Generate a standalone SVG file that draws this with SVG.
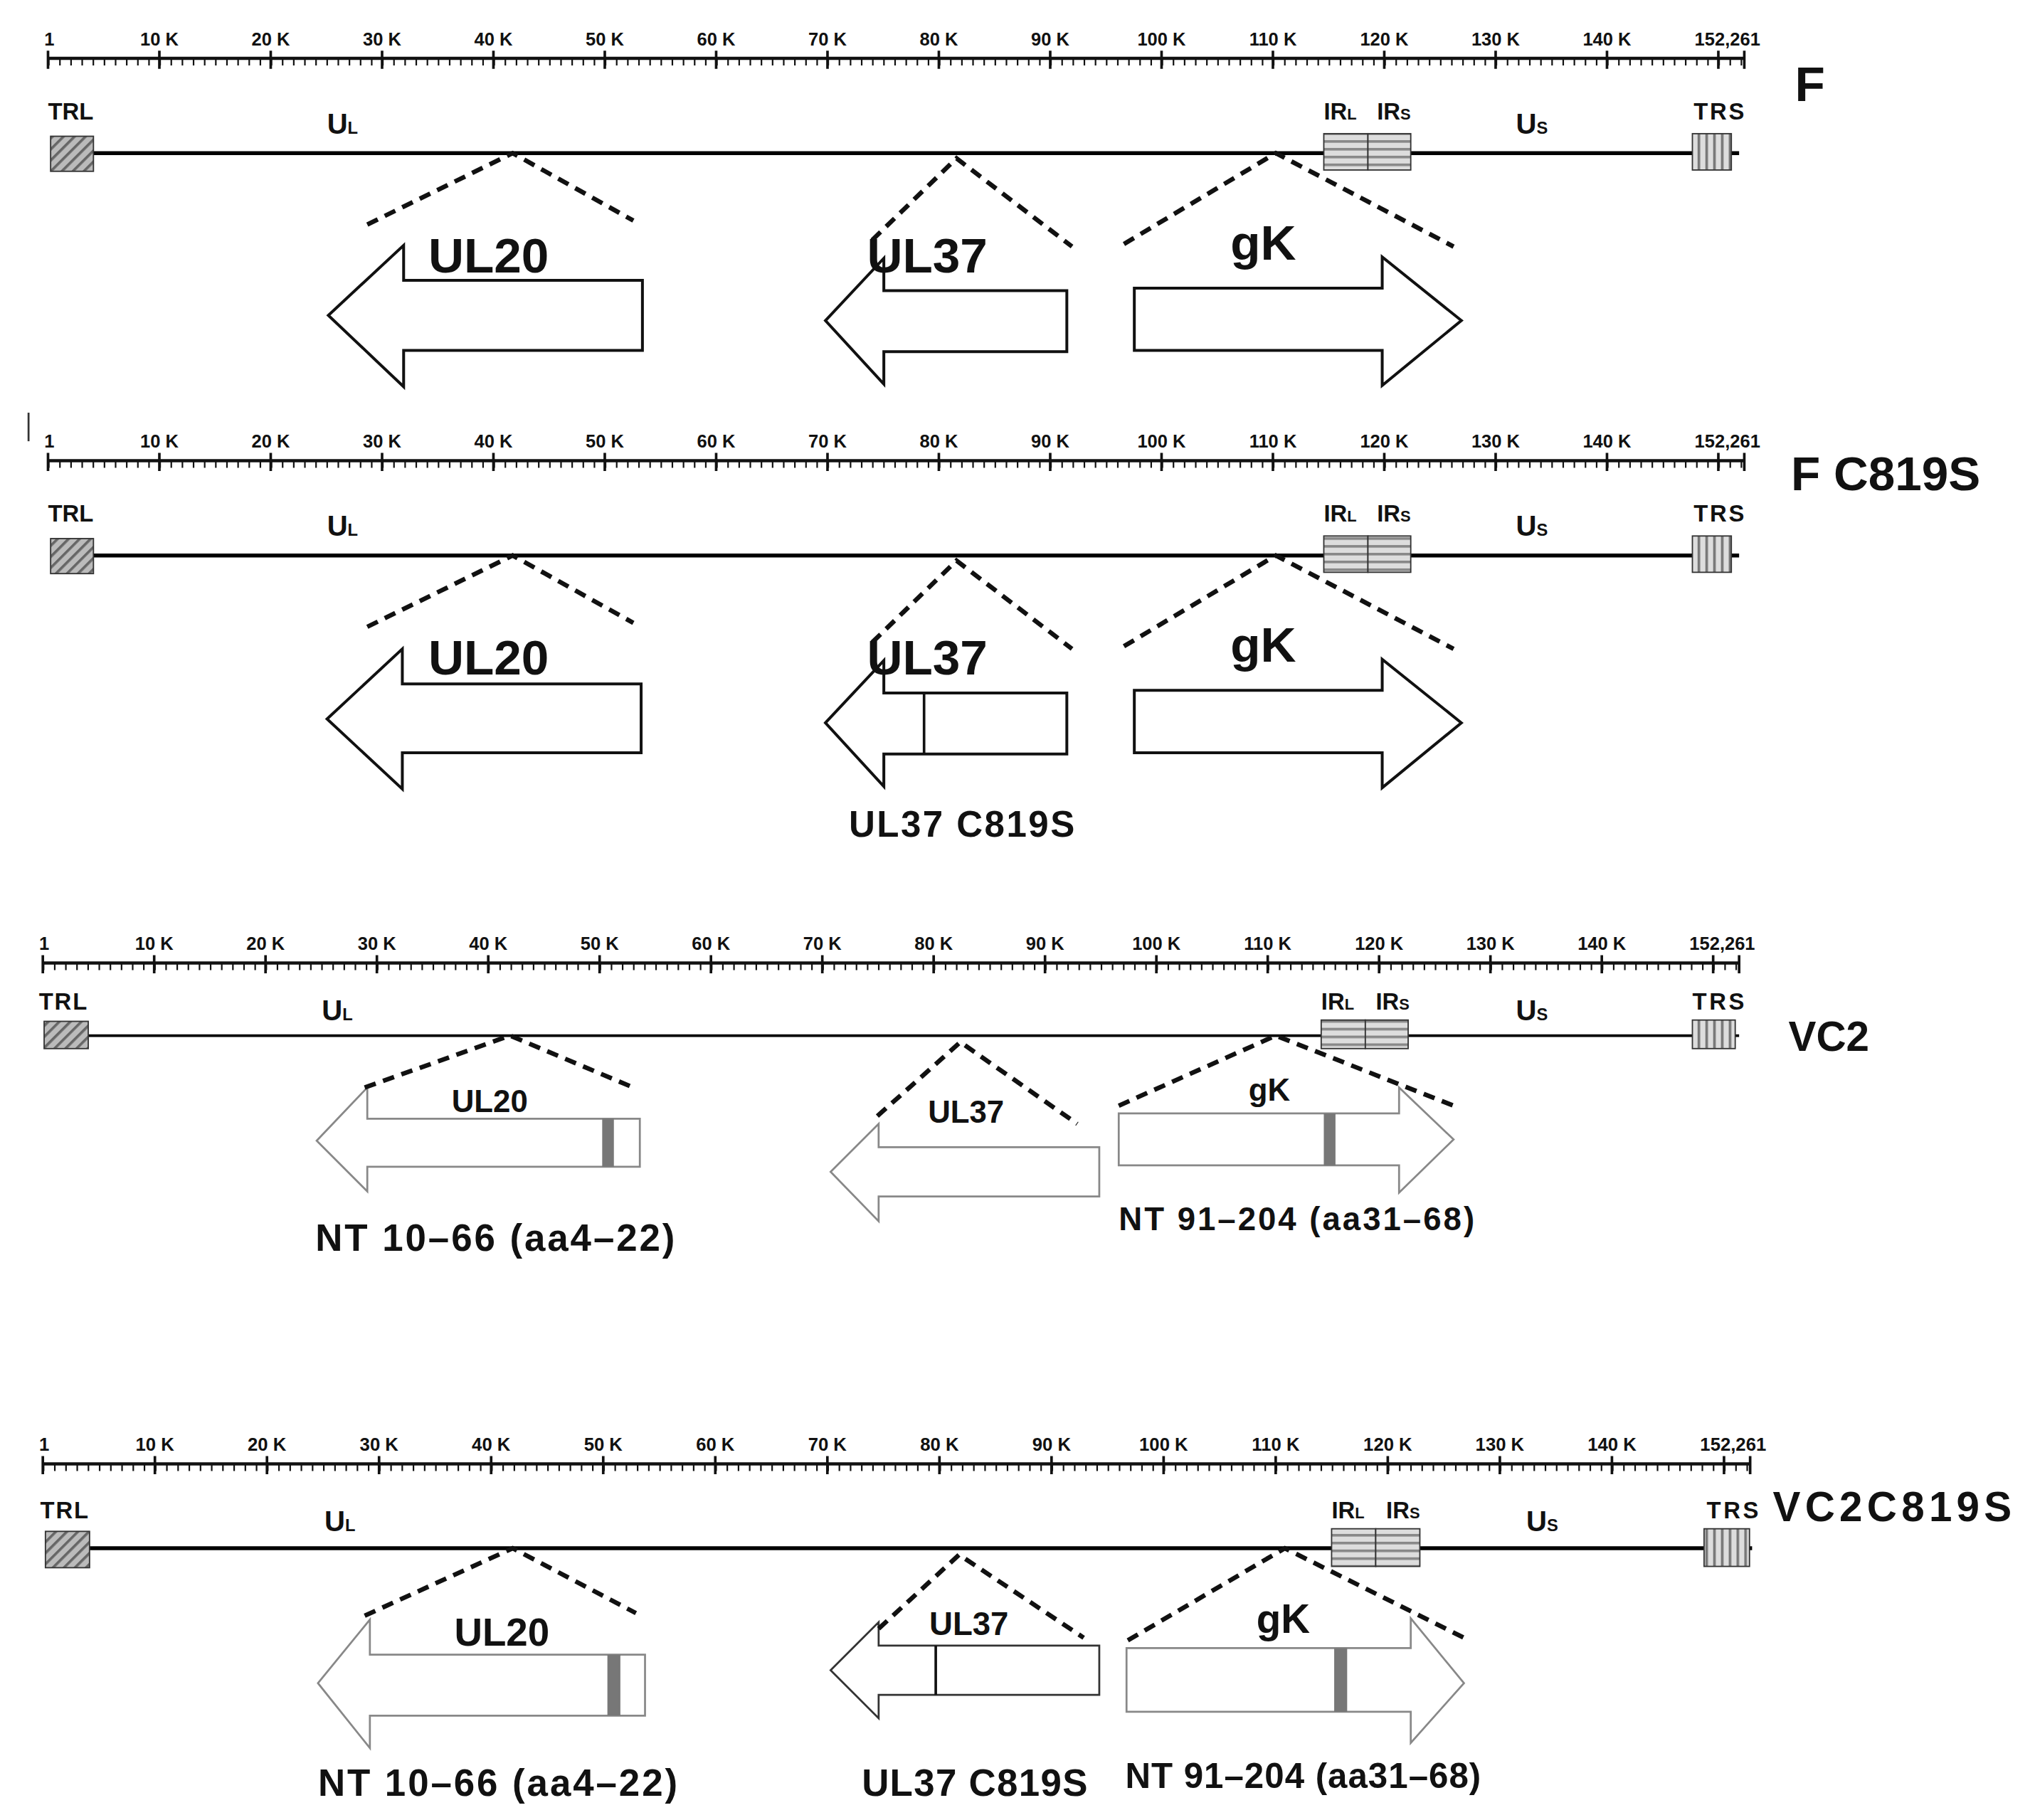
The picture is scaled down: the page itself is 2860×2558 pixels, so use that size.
<svg xmlns="http://www.w3.org/2000/svg" xmlns:xlink="http://www.w3.org/1999/xlink" width="2860" height="2558" viewBox="0 0 2860 2558">
<style>
text{font-family:"Liberation Sans",Arial,sans-serif;font-weight:bold;fill:#111}
.rn{font-size:14px;text-anchor:middle}
.lbl{font-size:18px}
.big{font-size:22px}
.dash{stroke:#111;stroke-width:3.5;stroke-dasharray:9 6;fill:none}
.g{stroke:#000;stroke-width:3;fill:none}
.arr{fill:#fff;stroke:#111;stroke-width:2.2}
.arrg{fill:#fff;stroke:#888;stroke-width:1.5}
.bar{fill:#777}
</style>
<defs>
<pattern id="hat" width="6" height="6" patternUnits="userSpaceOnUse" patternTransform="rotate(45)"><rect width="6" height="6" fill="#bbb"/><rect width="2" height="6" fill="#666"/></pattern>
<pattern id="hz" width="4" height="6" patternUnits="userSpaceOnUse"><rect width="4" height="6" fill="#ddd"/><rect width="4" height="2" fill="#888"/></pattern>
<pattern id="vt" width="6" height="4" patternUnits="userSpaceOnUse"><rect width="6" height="4" fill="#ddd"/><rect width="2" height="4" fill="#777"/></pattern>
<g id="ruler">
<line x1="0" y1="0" x2="1307" y2="0" stroke="#111" stroke-width="2.5"/>
<line x1="0" y1="3" x2="1307" y2="3" stroke="#111" stroke-width="5" stroke-dasharray="1.2 7.38"/>
<path d="M0 -6V8M85.8 -6V8M171.6 -6V8M257.4 -6V8M343.2 -6V8M429 -6V8M514.8 -6V8M600.6 -6V8M686.4 -6V8M772.2 -6V8M858 -6V8M943.8 -6V8M1029.6 -6V8M1115.4 -6V8M1201.2 -6V8M1287 -6V8M1307 -6V8" stroke="#111" stroke-width="2"/>
<text class="rn" x="1" y="-10">1</text>
<text class="rn" x="85.8" y="-10">10 K</text><text class="rn" x="171.6" y="-10">20 K</text><text class="rn" x="257.4" y="-10">30 K</text><text class="rn" x="343.2" y="-10">40 K</text><text class="rn" x="429" y="-10">50 K</text><text class="rn" x="514.8" y="-10">60 K</text><text class="rn" x="600.6" y="-10">70 K</text><text class="rn" x="686.4" y="-10">80 K</text><text class="rn" x="772.2" y="-10">90 K</text><text class="rn" x="858" y="-10">100 K</text><text class="rn" x="943.8" y="-10">110 K</text><text class="rn" x="1029.6" y="-10">120 K</text><text class="rn" x="1115.4" y="-10">130 K</text><text class="rn" x="1201.2" y="-10">140 K</text><text class="rn" x="1294" y="-10">152,261</text>
</g>
</defs>
<rect width="2860" height="2558" fill="#fff"/>
<g transform="scale(1.824)">
<g id="panelF">
<use xlink:href="#ruler" transform="translate(37,45)"/>
<line class="g" x1="72" y1="118" x2="1340" y2="118"/>
<rect x="39" y="105" width="33" height="27" fill="url(#hat)" stroke="#333"/>
<rect x="1020" y="103" width="34" height="28" fill="url(#hz)" stroke="#333"/>
<rect x="1054" y="103" width="33" height="28" fill="url(#hz)" stroke="#333"/>
<rect x="1304" y="103" width="30" height="28" fill="url(#vt)" stroke="#333"/>
<text class="lbl" x="37" y="92" textLength="35">TRL</text>
<text class="big" x="252" y="103">U<tspan style="font-size:13px">L</tspan></text>
<text class="lbl" x="1020" y="92">IR<tspan style="font-size:12px">L</tspan></text>
<text class="lbl" x="1061" y="92">IR<tspan style="font-size:12px">S</tspan></text>
<text class="big" x="1168" y="103">U<tspan style="font-size:13px">S</tspan></text>
<text class="lbl" x="1305" y="92" textLength="39">TRS</text>
<text x="1383" y="78" font-size="38">F</text>
</g>
<g id="genesF">
<polygon class="arr" points="253,243 311,189 311,216 495,216 495,270 311,270 311,298"/>
<polygon class="arr" points="636,247 681,199 681,224 822,224 822,271 681,271 681,296"/>
<polygon class="arr" points="1126,247 1065,198 1065,222 874,222 874,270 1065,270 1065,297"/>
<text x="330" y="210" font-size="38">UL20</text>
<text x="668" y="210" font-size="38">UL37</text>
<text x="948" y="200" font-size="38">gK</text>
</g>
<g id="panelFC">
<line x1="22" y1="318" x2="22" y2="340" stroke="#333" stroke-width="1.5"/>
<use xlink:href="#ruler" transform="translate(37,355)"/>
<line class="g" x1="72" y1="428" x2="1340" y2="428"/>
<rect x="39" y="415" width="33" height="27" fill="url(#hat)" stroke="#333"/>
<rect x="1020" y="413" width="34" height="28" fill="url(#hz)" stroke="#333"/>
<rect x="1054" y="413" width="33" height="28" fill="url(#hz)" stroke="#333"/>
<rect x="1304" y="413" width="30" height="28" fill="url(#vt)" stroke="#333"/>
<text class="lbl" x="37" y="402" textLength="35">TRL</text>
<text class="big" x="252" y="413">U<tspan style="font-size:13px">L</tspan></text>
<text class="lbl" x="1020" y="402">IR<tspan style="font-size:12px">L</tspan></text>
<text class="lbl" x="1061" y="402">IR<tspan style="font-size:12px">S</tspan></text>
<text class="big" x="1168" y="413">U<tspan style="font-size:13px">S</tspan></text>
<text class="lbl" x="1305" y="402" textLength="39">TRS</text>
<text x="1380" y="378" font-size="37">F C819S</text>
</g>
<g id="genesFC">
<polygon class="arr" points="252,554 310,500 310,527 494,527 494,580 310,580 310,608"/>
<polygon class="arr" points="636,557 681,509 681,534 822,534 822,581 681,581 681,606"/>
<line x1="712" y1="534" x2="712" y2="581" stroke="#111" stroke-width="2"/>
<polygon class="arr" points="1126,557 1065,508 1065,532 874,532 874,580 1065,580 1065,607"/>
<text x="330" y="520" font-size="38">UL20</text>
<text x="668" y="520" font-size="38">UL37</text>
<text x="948" y="510" font-size="38">gK</text>
<text x="654" y="645" font-size="28" textLength="174">UL37 C819S</text>
</g>
<g id="panelVC2">
<use xlink:href="#ruler" transform="translate(33,742)"/>
<line x1="68" y1="798" x2="1340" y2="798" stroke="#000" stroke-width="2"/>
<rect x="34" y="787" width="34" height="21" fill="url(#hat)" stroke="#333"/>
<rect x="1018" y="786" width="34" height="22" fill="url(#hz)" stroke="#333"/>
<rect x="1052" y="786" width="33" height="22" fill="url(#hz)" stroke="#333"/>
<rect x="1304" y="786" width="33" height="22" fill="url(#vt)" stroke="#333"/>
<text class="lbl" x="30" y="778" textLength="37">TRL</text>
<text class="big" x="248" y="786">U<tspan style="font-size:13px">L</tspan></text>
<text class="lbl" x="1018" y="778">IR<tspan style="font-size:12px">L</tspan></text>
<text class="lbl" x="1060" y="778">IR<tspan style="font-size:12px">S</tspan></text>
<text class="big" x="1168" y="786">U<tspan style="font-size:13px">S</tspan></text>
<text class="lbl" x="1304" y="778" textLength="40">TRS</text>
<text x="1378" y="810" font-size="32">VC2</text>
</g>
<g id="genesVC2">
<polygon class="arrg" points="244,879 283,838 283,862 493,862 493,899 283,899 283,918"/>
<rect class="bar" x="464" y="862" width="9" height="37"/>
<polygon class="arrg" points="640,903 677,866 677,884 847,884 847,922 677,922 677,941"/>
<polygon class="arrg" points="1120,878 1078,838 1078,858 862,858 862,898 1078,898 1078,919"/>
<rect class="bar" x="1020" y="858" width="9" height="40"/>
<text x="348" y="857" font-size="24">UL20</text>
<text x="715" y="865" font-size="24">UL37</text>
<text x="962" y="848" font-size="24">gK</text>
<text x="243" y="964" font-size="29" textLength="277">NT 10–66 (aa4–22)</text>
<text x="862" y="948" font-size="25" textLength="274">NT 91–204 (aa31–68)</text>
</g>
<g id="panelVC2C">
<use xlink:href="#ruler" transform="translate(33,1128) scale(1.0065,1)"/>
<line class="g" x1="69" y1="1193" x2="1350" y2="1193"/>
<rect x="35" y="1180" width="34" height="28" fill="url(#hat)" stroke="#333"/>
<rect x="1026" y="1178" width="34" height="29" fill="url(#hz)" stroke="#333"/>
<rect x="1060" y="1178" width="34" height="29" fill="url(#hz)" stroke="#333"/>
<rect x="1313" y="1178" width="35" height="29" fill="url(#vt)" stroke="#333"/>
<text class="lbl" x="31" y="1170" textLength="37">TRL</text>
<text class="big" x="250" y="1180">U<tspan style="font-size:13px">L</tspan></text>
<text class="lbl" x="1026" y="1170">IR<tspan style="font-size:12px">L</tspan></text>
<text class="lbl" x="1068" y="1170">IR<tspan style="font-size:12px">S</tspan></text>
<text class="big" x="1176" y="1180">U<tspan style="font-size:13px">S</tspan></text>
<text class="lbl" x="1315" y="1170" textLength="40">TRS</text>
<text x="1366" y="1172" font-size="32" textLength="184">VC2C819S</text>
</g>
<g id="genesVC2C">
<polygon class="arrg" points="245,1297 285,1248 285,1275 497,1275 497,1322 285,1322 285,1347"/>
<rect class="bar" x="468" y="1275" width="10" height="47"/>
<polygon class="arrg" points="640,1287 677,1250 677,1268 847,1268 847,1306 677,1306 677,1324" style="stroke:#333"/>
<line x1="721" y1="1268" x2="721" y2="1306" stroke="#111" stroke-width="2"/>
<polygon class="arrg" points="1128,1297 1087,1247 1087,1270 868,1270 868,1319 1087,1319 1087,1343"/>
<rect class="bar" x="1028" y="1270" width="10" height="49"/>
<text x="350" y="1268" font-size="30">UL20</text>
<text x="716" y="1260" font-size="25">UL37</text>
<text x="968" y="1258" font-size="31">gK</text>
<text x="245" y="1384" font-size="29" textLength="277">NT 10–66 (aa4–22)</text>
<text x="664" y="1384" font-size="29" textLength="174">UL37 C819S</text>
<text x="867" y="1378" font-size="27" textLength="274">NT 91–204 (aa31–68)</text>
</g>
<g id="connectors">
<path class="dash" d="M283,173 L395,118 L488,170"/>
<path class="dash" d="M672,185 L737,122 L826,190"/>
<path class="dash" d="M866,188 L983,118 L1120,190"/>
<path class="dash" d="M283,483 L395,428 L488,480"/>
<path class="dash" d="M672,495 L737,432 L826,500"/>
<path class="dash" d="M866,498 L983,428 L1120,500"/>
<path class="dash" d="M281,838 L393,798 L488,838"/>
<path class="dash" d="M676,860 L740,803 L830,866"/>
<path class="dash" d="M862,852 L983,798 L1120,852"/>
<path class="dash" d="M281,1245 L395,1193 L490,1243"/>
<path class="dash" d="M677,1255 L739,1198 L835,1262"/>
<path class="dash" d="M869,1264 L990,1193 L1128,1262"/>
</g>
</g>
</svg>
